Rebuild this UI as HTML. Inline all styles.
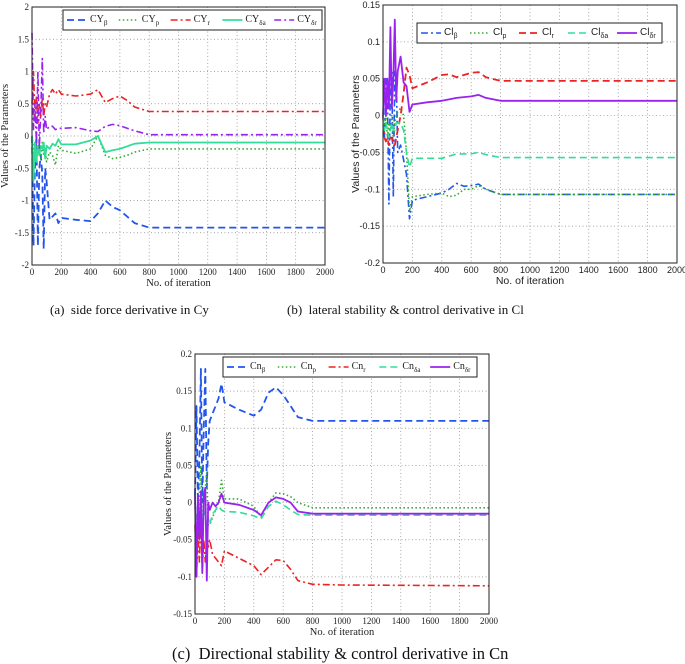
<!DOCTYPE html>
<html><head><meta charset="utf-8">
<style>
body{margin:0;background:#fff;width:685px;height:664px;overflow:hidden;font-family:"Liberation Serif",serif}
svg{position:absolute;left:0;top:0}
.cap{position:absolute;font-family:"Liberation Serif",serif;color:#111;white-space:nowrap}
</style></head><body>
<svg id="chart" width="685" height="664"></svg>
<div class="cap" style="left:50px;top:302px;font-size:13px">(a)&nbsp; side force derivative in Cy</div>
<div class="cap" style="left:287px;top:302px;font-size:13px">(b)&nbsp; lateral stability &amp; control derivative in Cl</div>
<div class="cap" style="left:172px;top:644px;font-size:16.5px">(c)&nbsp; Directional stability &amp; control derivative in Cn</div>
<script>
const X=[0,10,20,30,40,50,60,70,80,90,100,120,140,160,180,200,300,400,450,500,550,600,650,700,800,1000,2000];
// chart A
const cyBeta=[0,-1.7,-0.5,0,-1.7,-0.5,-0.3,-0.6,-1.75,-0.5,-0.7,-1.3,-1.25,-1.2,-1.35,-1.27,-1.3,-1.32,-1.2,-1.0,-1.1,-1.15,-1.25,-1.35,-1.42,-1.42,-1.42];
const cyP=[0,-0.2,-0.4,-0.1,-0.3,-0.15,-0.35,-0.1,-0.3,-0.2,-0.4,-0.25,-0.3,-0.45,-0.15,-0.22,-0.27,-0.2,0,-0.3,-0.35,-0.33,-0.3,-0.25,-0.2,-0.2,-0.2];
const cyR=[0.5,1.0,0.3,0.6,0.2,0.5,0.3,0.6,0.3,0.5,0.45,0.65,0.72,0.65,0.72,0.65,0.62,0.65,0.72,0.52,0.58,0.62,0.55,0.45,0.38,0.38,0.38];
const cyDa=[0,-0.7,-0.1,-0.4,-0.15,-0.3,-0.15,-0.2,-0.1,-0.35,-0.15,-0.2,-0.12,-0.15,-0.05,-0.13,-0.13,-0.07,0,-0.25,-0.22,-0.2,-0.16,-0.12,-0.1,-0.1,-0.1];
const cyDr=[1.6,0.1,0.5,-0.1,1.0,-0.2,0.4,1.2,0.05,0.3,0.1,0.15,0.15,0.1,0.12,0.12,0.13,0.08,0.07,0.15,0.18,0.16,0.12,0.08,0.02,0.02,0.02];
// chart B
const clBeta=[0,-0.03,0.05,0.03,-0.12,0.05,0.06,-0.11,0.06,0.055,-0.05,-0.04,-0.06,-0.08,-0.14,-0.115,-0.11,-0.105,-0.1,-0.092,-0.096,-0.095,-0.093,-0.1,-0.107,-0.107,-0.107];
const clP=[0,-0.02,0,-0.03,-0.01,-0.02,0,-0.03,-0.01,0,0.005,0.01,0,-0.05,-0.13,-0.11,-0.107,-0.105,-0.11,-0.108,-0.1,-0.1,-0.095,-0.1,-0.107,-0.107,-0.107];
const clR=[0,-0.03,-0.035,-0.03,-0.04,-0.03,-0.03,-0.04,-0.04,-0.03,-0.02,0,0.03,0.065,0.055,0.037,0.045,0.055,0.056,0.052,0.055,0.058,0.059,0.052,0.047,0.047,0.047];
const clDa=[0,-0.02,-0.01,-0.02,-0.03,-0.02,-0.01,-0.02,-0.02,-0.01,-0.01,-0.01,-0.02,-0.05,-0.07,-0.058,-0.058,-0.058,-0.055,-0.052,-0.052,-0.052,-0.05,-0.053,-0.057,-0.057,-0.057];
const clDr=[0,0.05,0,0.05,0.01,0.12,0.01,0.05,0.13,0.02,0.06,0.08,0.045,0.04,0.005,0.015,0.018,0.02,0.022,0.024,0.025,0.026,0.028,0.024,0.02,0.02,0.02];
// chart C
const cnBeta=[0.01,0.13,0,0.06,0.18,0,0.1,0.18,0.02,0.08,0.11,0.12,0.13,0.14,0.16,0.135,0.125,0.117,0.125,0.148,0.155,0.145,0.13,0.115,0.11,0.11,0.11];
const cnP=[0,-0.05,-0.02,0.01,0.05,-0.05,0,0.02,0.04,-0.03,-0.03,-0.02,-0.01,0,0.03,0.005,0.005,-0.005,-0.02,0,0.013,0.012,0.008,0,-0.007,-0.007,-0.007];
const cnR=[-0.03,-0.1,-0.04,-0.08,-0.02,-0.09,-0.05,-0.08,-0.05,-0.06,-0.05,-0.07,-0.075,-0.08,-0.085,-0.065,-0.075,-0.085,-0.097,-0.087,-0.077,-0.078,-0.09,-0.105,-0.11,-0.111,-0.112];
const cnDa=[0,-0.02,-0.01,-0.03,-0.02,-0.03,-0.01,-0.02,-0.03,-0.02,-0.03,-0.015,-0.01,-0.005,-0.01,-0.012,-0.013,-0.018,-0.022,-0.005,0.002,-0.003,-0.01,-0.016,-0.017,-0.017,-0.017];
const cnDr=[0.01,-0.1,0.01,-0.05,0.015,-0.095,0.01,0.02,-0.105,0,-0.01,0,-0.005,0,0.012,0,-0.003,-0.01,-0.017,0,0.007,0.005,0,-0.012,-0.015,-0.015,-0.015];
const xTicks=[0,200,400,600,800,1000,1200,1400,1600,1800,2000];
const yTicksA=[2,1.5,1,0.5,0,-0.5,-1,-1.5,-2];
const yTicksB=[0.15,0.1,0.05,0,-0.05,-0.1,-0.15,-0.2];
const yTicksC=[0.2,0.15,0.1,0.05,0,-0.05,-0.1,-0.15];

const NS="http://www.w3.org/2000/svg";
const svg=document.getElementById('chart');
function mk(tag,attrs,parent){const e=document.createElementNS(NS,tag);for(const k in attrs)e.setAttribute(k,attrs[k]);(parent||svg).appendChild(e);return e;}
const BLUE='#2255ee',GREEN='#33aa33',RED='#ee2222',CYAN='#33dd99',PURP='#9922ee';
const DASH='7,4',DOT='1.5,2.5',DASHDOT='7,3,2,3';

function panel(id,L,R,T,B,ymax,ymin,yTicks,series,leg,fam){
  const g=mk('g',{});
  
  
  const sx=v=>L+(v-0)/(2000)*(R-L);
  const sy=v=>T+(ymax-v)/(ymax-ymin)*(B-T);
  xTicks.forEach((t,i)=>{
    const x=sx(t);
    if(i>0&&i<xTicks.length-1){const gl=mk('line',{x1:x,x2:x,y1:T,y2:B,stroke:'#888','stroke-width':0.7,'stroke-dasharray':'1,2.5'},g);}
    const tl=mk('text',{x:x,y:B+10,'font-size':9,'text-anchor':'middle','font-family':fam,fill:'#222'},g);
    tl.textContent=t;
    
    
  });
  yTicks.forEach((t,i)=>{
    const y=sy(t);
    if(i>0&&i<yTicks.length-1){const gl=mk('line',{x1:L,x2:R,y1:y,y2:y,stroke:'#888','stroke-width':0.7,'stroke-dasharray':'1,2.5'},g);}
    const tl=mk('text',{x:L-3,y:y+3,'font-size':9,'text-anchor':'end','font-family':fam,fill:'#222'},g);
    tl.textContent=t;
    
    
  });
  series.forEach(s=>{
    const pts=X.map((xv,i)=>sx(xv).toFixed(1)+','+sy(s.d[i]).toFixed(1)).join(' ');
    const pl=mk('polyline',{points:pts,fill:'none',stroke:s.c,'stroke-width':s.w||1.6,'stroke-dasharray':s.dash||'','stroke-linejoin':'round'},g);
    
    
  });
  const fr=mk('rect',{x:L,y:T,width:R-L,height:B-T,fill:'none',stroke:'#222','stroke-width':1},g);
  
  
  const xl=mk('text',{x:(L+R)/2,y:B+21,'font-size':10.5,'text-anchor':'middle','font-family':fam,fill:'#222'},g);
  xl.textContent='No. of iteration';
  
  
  const yl=mk('text',{x:0,y:0,'font-size':10.5,'text-anchor':'middle','font-family':fam,fill:'#222',transform:`translate(${L-24},${(T+B)/2}) rotate(-90)`},g);
  yl.textContent='Values of the Parameters';
  
  
  const lg=mk('g',{},g);
  
  
  mk('rect',{x:leg.x,y:leg.y,width:leg.w,height:20,fill:'#fff',stroke:'#222','stroke-width':1},lg);
  const step=leg.w/5;
  series.forEach((s,i)=>{
    const x0=leg.x+4+i*step;
    const e=mk('g',{},lg);
    
    
    mk('line',{x1:x0,x2:x0+20,y1:leg.y+10,y2:leg.y+10,stroke:s.c,'stroke-width':s.w||1.6,'stroke-dasharray':s.dash||''},e);
    const t=mk('text',{x:x0+23,y:leg.y+12,'font-size':10,'font-family':fam,fill:'#222'},e);
    t.textContent=leg.pre;
    const sub=mk('tspan',{dy:3,'font-size':7},t);
    sub.textContent=s.sub;
  });
}
panel('a',32,325,7,265,2,-2,yTicksA,[
 {n:'cy-beta',d:cyBeta,c:BLUE,dash:DASH,sub:'β',w:1.8},
 {n:'cy-p',d:cyP,c:GREEN,dash:DOT,sub:'p'},
 {n:'cy-r',d:cyR,c:RED,dash:DASHDOT,sub:'r'},
 {n:'cy-da',d:cyDa,c:CYAN,dash:'',sub:'δa',w:1.8},
 {n:'cy-dr',d:cyDr,c:PURP,dash:DASHDOT,sub:'δr'}],
 {x:63,y:10,w:259,pre:'CY'},'"Liberation Serif",serif');
panel('b',383,677,5,263,0.15,-0.2,yTicksB,[
 {n:'cl-beta',d:clBeta,c:BLUE,dash:DASHDOT,sub:'β'},
 {n:'cl-p',d:clP,c:GREEN,dash:DOT,sub:'p'},
 {n:'cl-r',d:clR,c:RED,dash:DASH,sub:'r',w:1.8},
 {n:'cl-da',d:clDa,c:CYAN,dash:DASH,sub:'δa'},
 {n:'cl-dr',d:clDr,c:PURP,dash:'',sub:'δr',w:1.8}],
 {x:417,y:23,w:245,pre:'Cl'},'"Liberation Sans",sans-serif');
panel('c',195,489,354,614,0.2,-0.15,yTicksC,[
 {n:'cn-beta',d:cnBeta,c:BLUE,dash:DASH,sub:'β',w:1.8},
 {n:'cn-p',d:cnP,c:GREEN,dash:DOT,sub:'p'},
 {n:'cn-r',d:cnR,c:RED,dash:DASHDOT,sub:'r'},
 {n:'cn-da',d:cnDa,c:CYAN,dash:DASH,sub:'δa'},
 {n:'cn-dr',d:cnDr,c:PURP,dash:'',sub:'δr',w:1.8}],
 {x:223,y:357,w:254,pre:'Cn'},'"Liberation Serif",serif');
</script>
</body></html>
